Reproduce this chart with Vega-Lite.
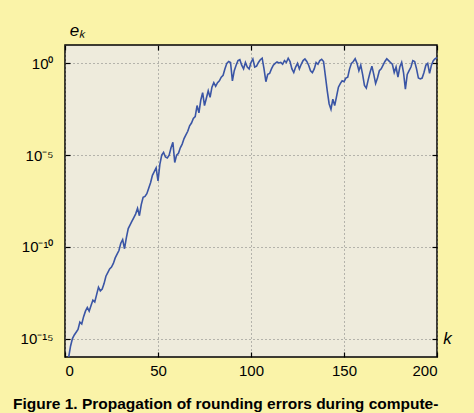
{
  "$schema": "https://vega.github.io/schema/vega-lite/v6.json",
  "width": 372,
  "height": 312,
  "autosize": {"type": "none"},
  "padding": {"left": 65, "top": 45, "right": 37, "bottom": 56},
  "background": "#faf3a8",
  "title": {
    "text": "Figure 1. Propagation of rounding errors during compute-",
    "orient": "bottom",
    "anchor": "start",
    "frame": "group",
    "baseline": "top",
    "offset": 19,
    "dx": -52,
    "font": "Liberation Sans",
    "fontSize": 15.5,
    "fontWeight": "bold",
    "color": "#000"
  },
  "data": {
    "values": [
      {"k": 1, "e": 2.51e-17}, {"k": 2, "e": 1e-16}, {"k": 3, "e": 3.98e-16}, {"k": 4, "e": 1e-15},
      {"k": 5, "e": 1.58e-15}, {"k": 6, "e": 2.24e-15}, {"k": 7, "e": 3.16e-15}, {"k": 8, "e": 7.94e-15},
      {"k": 9, "e": 6.31e-15}, {"k": 10, "e": 1.58e-14}, {"k": 11, "e": 3.16e-14}, {"k": 12, "e": 5.01e-14},
      {"k": 13, "e": 3.16e-14}, {"k": 14, "e": 6.31e-14}, {"k": 15, "e": 1.26e-13}, {"k": 16, "e": 1e-13},
      {"k": 17, "e": 2.51e-13}, {"k": 18, "e": 6.31e-13}, {"k": 19, "e": 3.98e-13}, {"k": 20, "e": 5.01e-13},
      {"k": 21, "e": 1e-12}, {"k": 22, "e": 2.51e-12}, {"k": 23, "e": 3.98e-12}, {"k": 24, "e": 6.31e-12},
      {"k": 25, "e": 7.94e-12}, {"k": 26, "e": 1.26e-11}, {"k": 27, "e": 2.51e-11}, {"k": 28, "e": 3.98e-11},
      {"k": 29, "e": 6.31e-11}, {"k": 30, "e": 1.58e-10}, {"k": 31, "e": 2.51e-10}, {"k": 32, "e": 7.94e-11},
      {"k": 33, "e": 3.16e-10}, {"k": 34, "e": 1e-9}, {"k": 35, "e": 1.58e-9}, {"k": 36, "e": 2.51e-9},
      {"k": 37, "e": 3.98e-9}, {"k": 38, "e": 6.31e-9}, {"k": 39, "e": 1.26e-8}, {"k": 40, "e": 5.01e-9},
      {"k": 41, "e": 2e-8}, {"k": 42, "e": 5.01e-8}, {"k": 43, "e": 5.62e-8}, {"k": 44, "e": 7.94e-8},
      {"k": 45, "e": 1.58e-7}, {"k": 46, "e": 3.16e-7}, {"k": 47, "e": 7.94e-7}, {"k": 48, "e": 1.26e-6},
      {"k": 49, "e": 2e-6}, {"k": 50, "e": 3.98e-7}, {"k": 51, "e": 3.16e-6}, {"k": 52, "e": 1e-5},
      {"k": 53, "e": 1.41e-5}, {"k": 54, "e": 7.94e-6}, {"k": 55, "e": 7.08e-6}, {"k": 56, "e": 1e-5},
      {"k": 57, "e": 2.51e-5}, {"k": 58, "e": 5.01e-5}, {"k": 59, "e": 3.98e-6}, {"k": 60, "e": 1e-5},
      {"k": 61, "e": 1.26e-5}, {"k": 62, "e": 2.51e-5}, {"k": 63, "e": 3.98e-5}, {"k": 64, "e": 7.94e-5},
      {"k": 65, "e": 1.26e-4}, {"k": 66, "e": 2e-4}, {"k": 67, "e": 3.98e-4}, {"k": 68, "e": 5.62e-4},
      {"k": 69, "e": 1e-3}, {"k": 70, "e": 1.26e-3}, {"k": 71, "e": 5.01e-3}, {"k": 72, "e": 2e-3},
      {"k": 73, "e": 1e-2}, {"k": 74, "e": 2.51e-2}, {"k": 75, "e": 5.01e-3}, {"k": 76, "e": 1.26e-2},
      {"k": 77, "e": 3.16e-2}, {"k": 78, "e": 1.41e-2}, {"k": 79, "e": 5.01e-2}, {"k": 80, "e": 8.91e-2},
      {"k": 81, "e": 5.62e-2}, {"k": 82, "e": 8.91e-2}, {"k": 83, "e": 0.112}, {"k": 84, "e": 0.178},
      {"k": 85, "e": 0.224}, {"k": 86, "e": 0.501}, {"k": 87, "e": 1}, {"k": 88, "e": 1.26},
      {"k": 89, "e": 1.12}, {"k": 90, "e": 0.112}, {"k": 91, "e": 0.398}, {"k": 92, "e": 0.794},
      {"k": 93, "e": 1.41}, {"k": 94, "e": 1.58}, {"k": 95, "e": 0.794}, {"k": 96, "e": 0.501},
      {"k": 97, "e": 1.12}, {"k": 98, "e": 0.631}, {"k": 99, "e": 0.501}, {"k": 100, "e": 1.12},
      {"k": 101, "e": 1.74}, {"k": 102, "e": 0.631}, {"k": 103, "e": 0.708}, {"k": 104, "e": 1.12},
      {"k": 105, "e": 1.58}, {"k": 106, "e": 1.91}, {"k": 107, "e": 0.501}, {"k": 108, "e": 0.1},
      {"k": 109, "e": 0.251}, {"k": 110, "e": 0.282}, {"k": 111, "e": 0.501}, {"k": 112, "e": 0.794},
      {"k": 113, "e": 1}, {"k": 114, "e": 1.2}, {"k": 115, "e": 1.05}, {"k": 116, "e": 1.12},
      {"k": 117, "e": 0.891}, {"k": 118, "e": 1.41}, {"k": 119, "e": 1.12}, {"k": 120, "e": 1.91},
      {"k": 121, "e": 1.26}, {"k": 122, "e": 0.501}, {"k": 123, "e": 0.316}, {"k": 124, "e": 0.631},
      {"k": 125, "e": 1}, {"k": 126, "e": 0.501}, {"k": 127, "e": 0.891}, {"k": 128, "e": 1.41},
      {"k": 129, "e": 1.74}, {"k": 130, "e": 1.26}, {"k": 131, "e": 0.794}, {"k": 132, "e": 0.398},
      {"k": 133, "e": 0.316}, {"k": 134, "e": 0.501}, {"k": 135, "e": 1.12}, {"k": 136, "e": 0.891},
      {"k": 137, "e": 1.41}, {"k": 138, "e": 1.66}, {"k": 139, "e": 1.26}, {"k": 140, "e": 0.2},
      {"k": 141, "e": 0.0316}, {"k": 142, "e": 0.00631}, {"k": 143, "e": 0.00316}, {"k": 144, "e": 0.0112},
      {"k": 145, "e": 0.00501}, {"k": 146, "e": 0.0158}, {"k": 147, "e": 0.0501}, {"k": 148, "e": 0.0794},
      {"k": 149, "e": 0.112}, {"k": 150, "e": 0.1}, {"k": 151, "e": 0.158}, {"k": 152, "e": 0.178},
      {"k": 153, "e": 0.501}, {"k": 154, "e": 1}, {"k": 155, "e": 1.26}, {"k": 156, "e": 1.78},
      {"k": 157, "e": 1}, {"k": 158, "e": 0.398}, {"k": 159, "e": 0.794}, {"k": 160, "e": 0.251},
      {"k": 161, "e": 0.0631}, {"k": 162, "e": 0.0447}, {"k": 163, "e": 0.126}, {"k": 164, "e": 0.316},
      {"k": 165, "e": 0.708}, {"k": 166, "e": 0.251}, {"k": 167, "e": 0.0794}, {"k": 168, "e": 0.158},
      {"k": 169, "e": 0.398}, {"k": 170, "e": 0.501}, {"k": 171, "e": 0.794}, {"k": 172, "e": 1.26},
      {"k": 173, "e": 1.78}, {"k": 174, "e": 1.41}, {"k": 175, "e": 1.12}, {"k": 176, "e": 0.891},
      {"k": 177, "e": 0.316}, {"k": 178, "e": 0.631}, {"k": 179, "e": 0.178}, {"k": 180, "e": 0.631},
      {"k": 181, "e": 1.12}, {"k": 182, "e": 0.316}, {"k": 183, "e": 0.0398}, {"k": 184, "e": 0.251},
      {"k": 185, "e": 0.398}, {"k": 186, "e": 0.631}, {"k": 187, "e": 1.41}, {"k": 188, "e": 1.26},
      {"k": 189, "e": 0.501}, {"k": 190, "e": 0.158}, {"k": 191, "e": 0.141}, {"k": 192, "e": 0.158},
      {"k": 193, "e": 0.316}, {"k": 194, "e": 0.794}, {"k": 195, "e": 1}, {"k": 196, "e": 0.282},
      {"k": 197, "e": 0.794}, {"k": 198, "e": 1.41}, {"k": 199, "e": 1.78}, {"k": 200, "e": 2.0}
    ]
  },
  "layer": [
    {
      "mark": {"type": "line", "color": "#3a55a5", "strokeWidth": 1.6, "clip": true},
      "encoding": {
        "x": {
          "field": "k", "type": "quantitative",
          "scale": {"domain": [0, 200], "nice": false, "zero": false},
          "axis": {
            "orient": "bottom",
            "values": [0, 50, 100, 150, 200],
            "title": "k",
            "titleX": 382, "titleY": -19,
            "titleAlign": "center", "titleBaseline": "middle",
            "labelPadding": 11
          }
        },
        "y": {
          "field": "e", "type": "quantitative",
          "scale": {"type": "log", "domain": [1e-16, 10], "nice": false},
          "axis": {
            "orient": "left",
            "values": [1e-15, 1e-10, 1e-5, 1],
            "labelExpr": "datum.value >= 0.5 ? '10⁰' : datum.value > 1e-7 ? '10⁻⁵' : datum.value > 1e-12 ? '10⁻¹⁰' : '10⁻¹⁵'",
            "title": "eₖ",
            "titleAngle": 0,
            "titleX": 12, "titleY": -15,
            "titleAlign": "center", "titleBaseline": "middle",
            "labelPadding": 17
          }
        }
      }
    },
    {
      "mark": {"type": "line", "opacity": 0},
      "encoding": {
        "x": {
          "field": "k", "type": "quantitative",
          "axis": {"orient": "top", "values": [0, 50, 100, 150, 200], "labels": false, "grid": false, "title": null}
        },
        "y": {
          "field": "e", "type": "quantitative",
          "axis": {"orient": "right", "values": [1e-15, 1e-10, 1e-5, 1], "labels": false, "grid": false, "title": null}
        }
      }
    }
  ],
  "resolve": {"axis": {"x": "independent", "y": "independent"}},
  "config": {
    "view": {"fill": "#eeebdc", "stroke": "#000", "strokeWidth": 1.5},
    "axis": {
      "domain": false,
      "grid": true,
      "gridColor": "#7a7a7a",
      "gridDash": [1, 3],
      "gridWidth": 1,
      "ticks": true,
      "tickSize": -5,
      "tickColor": "#000",
      "tickWidth": 1.2,
      "labelFont": "Liberation Sans",
      "labelFontSize": 15,
      "labelColor": "#000",
      "titleFont": "Liberation Sans",
      "titleFontSize": 17,
      "titleFontStyle": "italic",
      "titleFontWeight": "normal",
      "titleColor": "#000"
    }
  }
}
